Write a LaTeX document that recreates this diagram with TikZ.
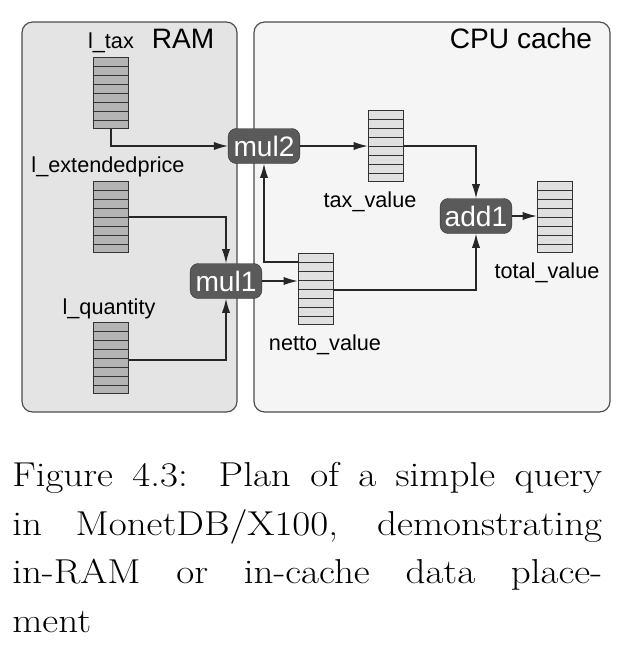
\documentclass[tikz,border=0pt]{standalone}
\usepackage{fontspec}
\newfontfamily\diasf{Liberation Sans}
\usetikzlibrary{positioning,arrows.meta,calc}
\definecolor{ramgray}{HTML}{E4E4E4}
\definecolor{cpugray}{HTML}{F5F5F5}
\definecolor{opgray}{HTML}{5A5A5A}
\definecolor{vecdark}{HTML}{B4B4B4}
\definecolor{veclight}{HTML}{E0E0E0}
\tikzset{
  panel/.style={draw=black!70, rounded corners=9pt, line width=1pt},
  op/.style={fill=opgray, draw=black!80, rounded corners=7pt, text=white,
    minimum width=2.15cm, minimum height=1.05cm, inner sep=0pt,
    font=\diasf\fontsize{24}{24}\selectfont},
  vec/.style={draw=black!80, line width=0.8pt, minimum width=1.07cm, minimum height=2.13cm, inner sep=0pt},
  lbl/.style={font=\diasf\fontsize{18.5}{18.5}\selectfont, inner sep=0pt},
  link/.style={draw=black!85, line width=1pt, -{Latex[length=12pt,width=7pt]}}
}
% a column vector of eight cells
\newcommand\cells[1]{
  \foreach \k in {1,...,7}
    \draw[black!80, line width=0.8pt] ($(#1.north west)!\k/8!(#1.south west)$) -- ($(#1.north east)!\k/8!(#1.south east)$);
}
\begin{document}
\begin{tikzpicture}[x=0.03cm,y=-0.03cm]
  \useasboundingbox (0,0) rectangle (628,662);
  % panels
  \draw[panel, fill=ramgray] (22,22) rectangle (237,412);
  \draw[panel, fill=cpugray] (254,22) rectangle (610,412);
  \node[font=\diasf\fontsize{24}{24}\selectfont, anchor=base] (ram) at (183,48) {RAM};
  \node[font=\diasf\fontsize{24}{24}\selectfont, anchor=base] (cpu) at (521,48) {CPU cache};
  % columns
  \node[vec, fill=vecdark] (tax) at (111,93) {};
  \node[vec, fill=vecdark] (price) at (111,217) {};
  \node[vec, fill=vecdark] (qty) at (111,358) {};
  \node[vec, fill=veclight] (taxval) at (386,146) {};
  \node[vec, fill=veclight] (netto) at (316,289) {};
  \node[vec, fill=veclight] (total) at (555,217) {};
  \cells{tax} \cells{price} \cells{qty} \cells{taxval} \cells{netto} \cells{total}
  % labels
  \node[lbl, anchor=base] at (111,48) {l\_tax};
  \node[lbl, anchor=base] at (108,172) {l\_extendedprice};
  \node[lbl, anchor=base] at (109,314) {l\_quantity};
  \node[lbl, anchor=base] at (370,207) {tax\_value};
  \node[lbl, anchor=base] at (325,350) {netto\_value};
  \node[lbl, anchor=base] at (547,278) {total\_value};
  % operators
  \node[op] (mul2) at (264,146) {mul2};
  \node[op] (mul1) at (226,281) {mul1};
  \node[op] (add1) at (476,216) {add1};
  % connectors
  \draw[link] (tax.south) |- (mul2.west);
  \draw[link] (price.east) -| (mul1.north);
  \draw[link] (qty.east |- 0,360) -| (mul1.south);
  \draw[link] (mul1.east) -- (mul1.east -| netto.west);
  \draw[link] (netto.west |- 0,262) -| (mul2.south);
  \draw[link] (mul2.east) -- (taxval.west |- mul2.east);
  \draw[link] (taxval.east) -| (add1.north);
  \draw[link] (netto.east |- 0,290) -| (add1.south);
  \draw[link] (add1.east) -- (total.west |- add1.east);
  % caption
  \node[anchor=north west, inner sep=0pt, text width=15.66cm, align=justify,
    xscale=1.13, transform shape,
    font=\fontsize{29.5}{41.5}\selectfont] (cap) at (12,462)
    {Figure 4.3: Plan of a simple query\linebreak in MonetDB/X100, demonstrating\linebreak in-RAM or in-cache data place-\linebreak ment};
\end{tikzpicture}
\end{document}
